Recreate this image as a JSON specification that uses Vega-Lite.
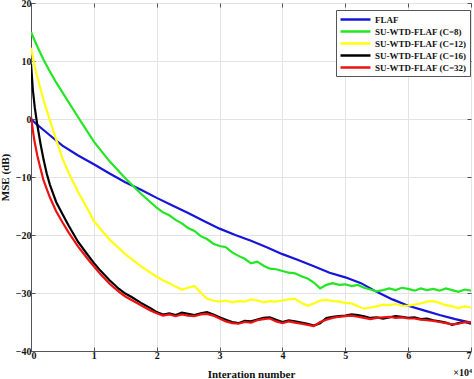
{
  "$schema": "https://vega.github.io/schema/vega-lite/v6.json",
  "width": 440,
  "height": 348,
  "autosize": {"type": "none"},
  "padding": {"left": 31, "top": 3, "right": 3, "bottom": 28},
  "background": "white",
  "config": {
    "view": {"stroke": "#555", "strokeWidth": 1},
    "font": "Liberation Serif",
    "axis": {
      "labelFont": "Liberation Serif", "labelFontWeight": "bold", "labelFontSize": 10, "labelColor": "#111",
      "titleFont": "Liberation Serif", "titleFontWeight": "bold", "titleFontSize": 11, "titleColor": "#111",
      "gridColor": "#e3e3e3", "domainColor": "#555", "tickColor": "#555", "tickSize": -4
    }
  },
  "resolve": {"axis": {"x": "independent", "y": "independent"}},
  "datasets": {
    "ann": [{"it": 70000, "mse": -40, "t": "×10⁴"}]
  },
  "data": {"values": [
    {"s":"FLAF","x":0,"y":0},{"s":"FLAF","x":1000,"y":-1.0},{"s":"FLAF","x":2000,"y":-1.9},{"s":"FLAF","x":3000,"y":-2.8},{"s":"FLAF","x":5000,"y":-4.6},{"s":"FLAF","x":7500,"y":-6.3},{"s":"FLAF","x":10000,"y":-7.8},{"s":"FLAF","x":12500,"y":-9.4},{"s":"FLAF","x":15000,"y":-10.9},{"s":"FLAF","x":17500,"y":-12.2},{"s":"FLAF","x":20000,"y":-13.6},{"s":"FLAF","x":22500,"y":-14.9},{"s":"FLAF","x":25000,"y":-16.2},{"s":"FLAF","x":27500,"y":-17.6},{"s":"FLAF","x":30000,"y":-18.9},{"s":"FLAF","x":32500,"y":-20.0},{"s":"FLAF","x":35000,"y":-21.0},{"s":"FLAF","x":37500,"y":-22.1},{"s":"FLAF","x":40000,"y":-23.3},{"s":"FLAF","x":42500,"y":-24.3},{"s":"FLAF","x":45000,"y":-25.4},{"s":"FLAF","x":47500,"y":-26.5},{"s":"FLAF","x":50000,"y":-27.3},{"s":"FLAF","x":52500,"y":-28.3},{"s":"FLAF","x":55000,"y":-29.8},{"s":"FLAF","x":57500,"y":-31.1},{"s":"FLAF","x":60000,"y":-32.2},{"s":"FLAF","x":62500,"y":-33.0},{"s":"FLAF","x":65000,"y":-33.8},{"s":"FLAF","x":67500,"y":-34.5},{"s":"FLAF","x":70000,"y":-35.1},

    {"s":"SU-WTD-FLAF (C=8)","x":0,"y":15},{"s":"SU-WTD-FLAF (C=8)","x":1000,"y":12.5},{"s":"SU-WTD-FLAF (C=8)","x":2000,"y":10.2},{"s":"SU-WTD-FLAF (C=8)","x":3000,"y":8.2},{"s":"SU-WTD-FLAF (C=8)","x":4000,"y":6.3},{"s":"SU-WTD-FLAF (C=8)","x":5000,"y":4.6},{"s":"SU-WTD-FLAF (C=8)","x":7500,"y":0.3},{"s":"SU-WTD-FLAF (C=8)","x":10000,"y":-3.9},{"s":"SU-WTD-FLAF (C=8)","x":12500,"y":-7.3},{"s":"SU-WTD-FLAF (C=8)","x":15000,"y":-10.2},{"s":"SU-WTD-FLAF (C=8)","x":17500,"y":-12.9},
    {"s":"SU-WTD-FLAF (C=8)","x":20000,"y":-15.3},{"s":"SU-WTD-FLAF (C=8)","x":21000,"y":-16.1},{"s":"SU-WTD-FLAF (C=8)","x":22000,"y":-16.6},{"s":"SU-WTD-FLAF (C=8)","x":23000,"y":-17.4},{"s":"SU-WTD-FLAF (C=8)","x":24000,"y":-18.0},{"s":"SU-WTD-FLAF (C=8)","x":25000,"y":-18.8},{"s":"SU-WTD-FLAF (C=8)","x":26000,"y":-19.3},{"s":"SU-WTD-FLAF (C=8)","x":27000,"y":-20.2},{"s":"SU-WTD-FLAF (C=8)","x":28000,"y":-20.7},{"s":"SU-WTD-FLAF (C=8)","x":29000,"y":-21.5},{"s":"SU-WTD-FLAF (C=8)","x":30000,"y":-21.9},{"s":"SU-WTD-FLAF (C=8)","x":31000,"y":-22.1},{"s":"SU-WTD-FLAF (C=8)","x":32000,"y":-23.0},{"s":"SU-WTD-FLAF (C=8)","x":33000,"y":-23.6},{"s":"SU-WTD-FLAF (C=8)","x":34000,"y":-24.1},{"s":"SU-WTD-FLAF (C=8)","x":35000,"y":-24.9},{"s":"SU-WTD-FLAF (C=8)","x":36000,"y":-24.6},{"s":"SU-WTD-FLAF (C=8)","x":37000,"y":-25.3},{"s":"SU-WTD-FLAF (C=8)","x":38000,"y":-25.8},{"s":"SU-WTD-FLAF (C=8)","x":39000,"y":-25.9},{"s":"SU-WTD-FLAF (C=8)","x":40000,"y":-26.2},{"s":"SU-WTD-FLAF (C=8)","x":41000,"y":-26.5},{"s":"SU-WTD-FLAF (C=8)","x":42000,"y":-26.6},{"s":"SU-WTD-FLAF (C=8)","x":43000,"y":-27.1},{"s":"SU-WTD-FLAF (C=8)","x":44000,"y":-27.5},{"s":"SU-WTD-FLAF (C=8)","x":45000,"y":-28.2},{"s":"SU-WTD-FLAF (C=8)","x":46000,"y":-29.2},{"s":"SU-WTD-FLAF (C=8)","x":47000,"y":-28.6},{"s":"SU-WTD-FLAF (C=8)","x":48000,"y":-28.3},{"s":"SU-WTD-FLAF (C=8)","x":49000,"y":-28.6},{"s":"SU-WTD-FLAF (C=8)","x":50000,"y":-28.5},{"s":"SU-WTD-FLAF (C=8)","x":51000,"y":-28.8},{"s":"SU-WTD-FLAF (C=8)","x":52000,"y":-28.6},{"s":"SU-WTD-FLAF (C=8)","x":53000,"y":-29.1},{"s":"SU-WTD-FLAF (C=8)","x":54000,"y":-29.4},{"s":"SU-WTD-FLAF (C=8)","x":55000,"y":-29.7},{"s":"SU-WTD-FLAF (C=8)","x":56000,"y":-29.5},{"s":"SU-WTD-FLAF (C=8)","x":57000,"y":-29.2},{"s":"SU-WTD-FLAF (C=8)","x":58000,"y":-29.5},{"s":"SU-WTD-FLAF (C=8)","x":59000,"y":-29.1},{"s":"SU-WTD-FLAF (C=8)","x":60000,"y":-29.3},{"s":"SU-WTD-FLAF (C=8)","x":61000,"y":-29.6},{"s":"SU-WTD-FLAF (C=8)","x":62000,"y":-29.2},{"s":"SU-WTD-FLAF (C=8)","x":63000,"y":-29.5},{"s":"SU-WTD-FLAF (C=8)","x":64000,"y":-29.3},{"s":"SU-WTD-FLAF (C=8)","x":65000,"y":-29.6},{"s":"SU-WTD-FLAF (C=8)","x":66000,"y":-29.2},{"s":"SU-WTD-FLAF (C=8)","x":67000,"y":-29.5},{"s":"SU-WTD-FLAF (C=8)","x":68000,"y":-29.8},{"s":"SU-WTD-FLAF (C=8)","x":69000,"y":-29.4},{"s":"SU-WTD-FLAF (C=8)","x":70000,"y":-29.6},

    {"s":"SU-WTD-FLAF (C=12)","x":0,"y":12.3},{"s":"SU-WTD-FLAF (C=12)","x":500,"y":9.5},{"s":"SU-WTD-FLAF (C=12)","x":1000,"y":7.3},{"s":"SU-WTD-FLAF (C=12)","x":2000,"y":3.2},{"s":"SU-WTD-FLAF (C=12)","x":3000,"y":-0.2},{"s":"SU-WTD-FLAF (C=12)","x":4000,"y":-3.5},{"s":"SU-WTD-FLAF (C=12)","x":5000,"y":-6.8},{"s":"SU-WTD-FLAF (C=12)","x":6000,"y":-9.3},{"s":"SU-WTD-FLAF (C=12)","x":7500,"y":-12.6},{"s":"SU-WTD-FLAF (C=12)","x":9000,"y":-15.5},{"s":"SU-WTD-FLAF (C=12)","x":10000,"y":-17.6},{"s":"SU-WTD-FLAF (C=12)","x":12500,"y":-20.8},{"s":"SU-WTD-FLAF (C=12)","x":15000,"y":-23.3},{"s":"SU-WTD-FLAF (C=12)","x":17500,"y":-25.4},
    {"s":"SU-WTD-FLAF (C=12)","x":20000,"y":-27.2},{"s":"SU-WTD-FLAF (C=12)","x":21000,"y":-27.8},{"s":"SU-WTD-FLAF (C=12)","x":22000,"y":-28.3},{"s":"SU-WTD-FLAF (C=12)","x":23000,"y":-28.9},{"s":"SU-WTD-FLAF (C=12)","x":24000,"y":-29.4},{"s":"SU-WTD-FLAF (C=12)","x":25000,"y":-29.1},{"s":"SU-WTD-FLAF (C=12)","x":26000,"y":-28.8},{"s":"SU-WTD-FLAF (C=12)","x":27000,"y":-29.9},{"s":"SU-WTD-FLAF (C=12)","x":28000,"y":-31.0},{"s":"SU-WTD-FLAF (C=12)","x":29000,"y":-31.3},{"s":"SU-WTD-FLAF (C=12)","x":30000,"y":-31.5},{"s":"SU-WTD-FLAF (C=12)","x":31000,"y":-31.3},{"s":"SU-WTD-FLAF (C=12)","x":32000,"y":-31.6},{"s":"SU-WTD-FLAF (C=12)","x":33000,"y":-31.4},{"s":"SU-WTD-FLAF (C=12)","x":34000,"y":-31.5},{"s":"SU-WTD-FLAF (C=12)","x":35000,"y":-31.1},{"s":"SU-WTD-FLAF (C=12)","x":36000,"y":-31.3},{"s":"SU-WTD-FLAF (C=12)","x":37000,"y":-31.6},{"s":"SU-WTD-FLAF (C=12)","x":38000,"y":-31.4},{"s":"SU-WTD-FLAF (C=12)","x":39000,"y":-31.5},{"s":"SU-WTD-FLAF (C=12)","x":40000,"y":-31.3},{"s":"SU-WTD-FLAF (C=12)","x":41000,"y":-31.1},{"s":"SU-WTD-FLAF (C=12)","x":42000,"y":-31.0},{"s":"SU-WTD-FLAF (C=12)","x":43000,"y":-31.7},{"s":"SU-WTD-FLAF (C=12)","x":44000,"y":-32.2},{"s":"SU-WTD-FLAF (C=12)","x":45000,"y":-31.8},{"s":"SU-WTD-FLAF (C=12)","x":46000,"y":-31.3},{"s":"SU-WTD-FLAF (C=12)","x":47000,"y":-31.2},{"s":"SU-WTD-FLAF (C=12)","x":48000,"y":-31.4},{"s":"SU-WTD-FLAF (C=12)","x":49000,"y":-31.5},{"s":"SU-WTD-FLAF (C=12)","x":50000,"y":-31.7},{"s":"SU-WTD-FLAF (C=12)","x":51000,"y":-31.8},{"s":"SU-WTD-FLAF (C=12)","x":52000,"y":-32.3},{"s":"SU-WTD-FLAF (C=12)","x":53000,"y":-32.7},{"s":"SU-WTD-FLAF (C=12)","x":54000,"y":-32.5},{"s":"SU-WTD-FLAF (C=12)","x":55000,"y":-32.3},{"s":"SU-WTD-FLAF (C=12)","x":56000,"y":-32.0},{"s":"SU-WTD-FLAF (C=12)","x":57000,"y":-32.1},{"s":"SU-WTD-FLAF (C=12)","x":58000,"y":-31.9},{"s":"SU-WTD-FLAF (C=12)","x":59000,"y":-32.2},{"s":"SU-WTD-FLAF (C=12)","x":60000,"y":-32.2},{"s":"SU-WTD-FLAF (C=12)","x":61000,"y":-32.0},{"s":"SU-WTD-FLAF (C=12)","x":62000,"y":-31.8},{"s":"SU-WTD-FLAF (C=12)","x":63000,"y":-31.5},{"s":"SU-WTD-FLAF (C=12)","x":64000,"y":-31.4},{"s":"SU-WTD-FLAF (C=12)","x":65000,"y":-31.7},{"s":"SU-WTD-FLAF (C=12)","x":66000,"y":-32.1},{"s":"SU-WTD-FLAF (C=12)","x":67000,"y":-32.3},{"s":"SU-WTD-FLAF (C=12)","x":68000,"y":-32.6},{"s":"SU-WTD-FLAF (C=12)","x":69000,"y":-32.3},{"s":"SU-WTD-FLAF (C=12)","x":70000,"y":-32.5},

    {"s":"SU-WTD-FLAF (C=16)","x":0,"y":9.5},{"s":"SU-WTD-FLAF (C=16)","x":300,"y":5},{"s":"SU-WTD-FLAF (C=16)","x":600,"y":2},{"s":"SU-WTD-FLAF (C=16)","x":1000,"y":-1},{"s":"SU-WTD-FLAF (C=16)","x":1500,"y":-4.2},{"s":"SU-WTD-FLAF (C=16)","x":2000,"y":-7},{"s":"SU-WTD-FLAF (C=16)","x":2500,"y":-9.4},{"s":"SU-WTD-FLAF (C=16)","x":3000,"y":-11.3},{"s":"SU-WTD-FLAF (C=16)","x":4000,"y":-14.3},{"s":"SU-WTD-FLAF (C=16)","x":5000,"y":-16.4},{"s":"SU-WTD-FLAF (C=16)","x":6000,"y":-18.4},{"s":"SU-WTD-FLAF (C=16)","x":7500,"y":-21.2},{"s":"SU-WTD-FLAF (C=16)","x":9000,"y":-23.4},{"s":"SU-WTD-FLAF (C=16)","x":10000,"y":-24.8},{"s":"SU-WTD-FLAF (C=16)","x":11000,"y":-26.1},{"s":"SU-WTD-FLAF (C=16)","x":12500,"y":-27.8},{"s":"SU-WTD-FLAF (C=16)","x":14000,"y":-29.3},{"s":"SU-WTD-FLAF (C=16)","x":15000,"y":-30.1},{"s":"SU-WTD-FLAF (C=16)","x":16000,"y":-30.7},{"s":"SU-WTD-FLAF (C=16)","x":17500,"y":-31.7},{"s":"SU-WTD-FLAF (C=16)","x":19000,"y":-32.6},
    {"s":"SU-WTD-FLAF (C=16)","x":20000,"y":-33.3},{"s":"SU-WTD-FLAF (C=16)","x":21000,"y":-33.7},{"s":"SU-WTD-FLAF (C=16)","x":22000,"y":-33.5},{"s":"SU-WTD-FLAF (C=16)","x":23000,"y":-33.8},{"s":"SU-WTD-FLAF (C=16)","x":24000,"y":-33.4},{"s":"SU-WTD-FLAF (C=16)","x":25000,"y":-33.6},{"s":"SU-WTD-FLAF (C=16)","x":26000,"y":-33.8},{"s":"SU-WTD-FLAF (C=16)","x":27000,"y":-33.5},{"s":"SU-WTD-FLAF (C=16)","x":28000,"y":-33.3},{"s":"SU-WTD-FLAF (C=16)","x":29000,"y":-33.7},{"s":"SU-WTD-FLAF (C=16)","x":30000,"y":-34.2},{"s":"SU-WTD-FLAF (C=16)","x":31000,"y":-34.6},{"s":"SU-WTD-FLAF (C=16)","x":32000,"y":-35.0},{"s":"SU-WTD-FLAF (C=16)","x":33000,"y":-35.2},{"s":"SU-WTD-FLAF (C=16)","x":34000,"y":-34.8},{"s":"SU-WTD-FLAF (C=16)","x":35000,"y":-34.9},{"s":"SU-WTD-FLAF (C=16)","x":36000,"y":-34.6},{"s":"SU-WTD-FLAF (C=16)","x":37000,"y":-34.3},{"s":"SU-WTD-FLAF (C=16)","x":38000,"y":-34.2},{"s":"SU-WTD-FLAF (C=16)","x":39000,"y":-34.6},{"s":"SU-WTD-FLAF (C=16)","x":40000,"y":-35.0},{"s":"SU-WTD-FLAF (C=16)","x":41000,"y":-34.7},{"s":"SU-WTD-FLAF (C=16)","x":42000,"y":-34.9},{"s":"SU-WTD-FLAF (C=16)","x":43000,"y":-35.1},{"s":"SU-WTD-FLAF (C=16)","x":44000,"y":-35.3},{"s":"SU-WTD-FLAF (C=16)","x":45000,"y":-35.6},{"s":"SU-WTD-FLAF (C=16)","x":46000,"y":-35.2},{"s":"SU-WTD-FLAF (C=16)","x":47000,"y":-34.3},{"s":"SU-WTD-FLAF (C=16)","x":48000,"y":-34.1},{"s":"SU-WTD-FLAF (C=16)","x":49000,"y":-34.0},{"s":"SU-WTD-FLAF (C=16)","x":50000,"y":-33.9},{"s":"SU-WTD-FLAF (C=16)","x":51000,"y":-33.7},{"s":"SU-WTD-FLAF (C=16)","x":52000,"y":-33.8},{"s":"SU-WTD-FLAF (C=16)","x":53000,"y":-34.0},{"s":"SU-WTD-FLAF (C=16)","x":54000,"y":-34.3},{"s":"SU-WTD-FLAF (C=16)","x":55000,"y":-34.2},{"s":"SU-WTD-FLAF (C=16)","x":56000,"y":-34.4},{"s":"SU-WTD-FLAF (C=16)","x":57000,"y":-34.2},{"s":"SU-WTD-FLAF (C=16)","x":58000,"y":-34.0},{"s":"SU-WTD-FLAF (C=16)","x":59000,"y":-34.1},{"s":"SU-WTD-FLAF (C=16)","x":60000,"y":-34.3},{"s":"SU-WTD-FLAF (C=16)","x":61000,"y":-34.2},{"s":"SU-WTD-FLAF (C=16)","x":62000,"y":-34.5},{"s":"SU-WTD-FLAF (C=16)","x":63000,"y":-34.4},{"s":"SU-WTD-FLAF (C=16)","x":64000,"y":-34.7},{"s":"SU-WTD-FLAF (C=16)","x":65000,"y":-34.9},{"s":"SU-WTD-FLAF (C=16)","x":66000,"y":-35.1},{"s":"SU-WTD-FLAF (C=16)","x":67000,"y":-35.5},{"s":"SU-WTD-FLAF (C=16)","x":68000,"y":-35.2},{"s":"SU-WTD-FLAF (C=16)","x":69000,"y":-35.0},{"s":"SU-WTD-FLAF (C=16)","x":70000,"y":-35.3},

    {"s":"SU-WTD-FLAF (C=32)","x":0,"y":0.4},{"s":"SU-WTD-FLAF (C=32)","x":500,"y":-3.5},{"s":"SU-WTD-FLAF (C=32)","x":1000,"y":-6.3},{"s":"SU-WTD-FLAF (C=32)","x":1500,"y":-8.5},{"s":"SU-WTD-FLAF (C=32)","x":2000,"y":-10.6},{"s":"SU-WTD-FLAF (C=32)","x":3000,"y":-13.5},{"s":"SU-WTD-FLAF (C=32)","x":4000,"y":-15.9},{"s":"SU-WTD-FLAF (C=32)","x":5000,"y":-17.8},{"s":"SU-WTD-FLAF (C=32)","x":6000,"y":-19.6},{"s":"SU-WTD-FLAF (C=32)","x":7500,"y":-22.0},{"s":"SU-WTD-FLAF (C=32)","x":9000,"y":-24.1},{"s":"SU-WTD-FLAF (C=32)","x":10000,"y":-25.4},{"s":"SU-WTD-FLAF (C=32)","x":11000,"y":-26.7},{"s":"SU-WTD-FLAF (C=32)","x":12500,"y":-28.4},{"s":"SU-WTD-FLAF (C=32)","x":14000,"y":-29.8},{"s":"SU-WTD-FLAF (C=32)","x":15000,"y":-30.6},{"s":"SU-WTD-FLAF (C=32)","x":16000,"y":-31.2},{"s":"SU-WTD-FLAF (C=32)","x":17500,"y":-32.1},{"s":"SU-WTD-FLAF (C=32)","x":19000,"y":-33.0},
    {"s":"SU-WTD-FLAF (C=32)","x":20000,"y":-33.5},{"s":"SU-WTD-FLAF (C=32)","x":21000,"y":-33.9},{"s":"SU-WTD-FLAF (C=32)","x":22000,"y":-33.7},{"s":"SU-WTD-FLAF (C=32)","x":23000,"y":-34.0},{"s":"SU-WTD-FLAF (C=32)","x":24000,"y":-33.7},{"s":"SU-WTD-FLAF (C=32)","x":25000,"y":-33.9},{"s":"SU-WTD-FLAF (C=32)","x":26000,"y":-34.0},{"s":"SU-WTD-FLAF (C=32)","x":27000,"y":-33.7},{"s":"SU-WTD-FLAF (C=32)","x":28000,"y":-33.6},{"s":"SU-WTD-FLAF (C=32)","x":29000,"y":-33.9},{"s":"SU-WTD-FLAF (C=32)","x":30000,"y":-34.4},{"s":"SU-WTD-FLAF (C=32)","x":31000,"y":-34.9},{"s":"SU-WTD-FLAF (C=32)","x":32000,"y":-35.2},{"s":"SU-WTD-FLAF (C=32)","x":33000,"y":-35.3},{"s":"SU-WTD-FLAF (C=32)","x":34000,"y":-35.0},{"s":"SU-WTD-FLAF (C=32)","x":35000,"y":-35.1},{"s":"SU-WTD-FLAF (C=32)","x":36000,"y":-34.7},{"s":"SU-WTD-FLAF (C=32)","x":37000,"y":-34.5},{"s":"SU-WTD-FLAF (C=32)","x":38000,"y":-34.4},{"s":"SU-WTD-FLAF (C=32)","x":39000,"y":-34.9},{"s":"SU-WTD-FLAF (C=32)","x":40000,"y":-35.2},{"s":"SU-WTD-FLAF (C=32)","x":41000,"y":-34.9},{"s":"SU-WTD-FLAF (C=32)","x":42000,"y":-35.1},{"s":"SU-WTD-FLAF (C=32)","x":43000,"y":-35.3},{"s":"SU-WTD-FLAF (C=32)","x":44000,"y":-35.5},{"s":"SU-WTD-FLAF (C=32)","x":45000,"y":-35.7},{"s":"SU-WTD-FLAF (C=32)","x":46000,"y":-35.0},{"s":"SU-WTD-FLAF (C=32)","x":47000,"y":-34.6},{"s":"SU-WTD-FLAF (C=32)","x":48000,"y":-34.3},{"s":"SU-WTD-FLAF (C=32)","x":49000,"y":-34.1},{"s":"SU-WTD-FLAF (C=32)","x":50000,"y":-34.0},{"s":"SU-WTD-FLAF (C=32)","x":51000,"y":-33.9},{"s":"SU-WTD-FLAF (C=32)","x":52000,"y":-34.1},{"s":"SU-WTD-FLAF (C=32)","x":53000,"y":-34.3},{"s":"SU-WTD-FLAF (C=32)","x":54000,"y":-34.5},{"s":"SU-WTD-FLAF (C=32)","x":55000,"y":-34.3},{"s":"SU-WTD-FLAF (C=32)","x":56000,"y":-34.2},{"s":"SU-WTD-FLAF (C=32)","x":57000,"y":-34.1},{"s":"SU-WTD-FLAF (C=32)","x":58000,"y":-34.3},{"s":"SU-WTD-FLAF (C=32)","x":59000,"y":-34.2},{"s":"SU-WTD-FLAF (C=32)","x":60000,"y":-34.4},{"s":"SU-WTD-FLAF (C=32)","x":61000,"y":-34.4},{"s":"SU-WTD-FLAF (C=32)","x":62000,"y":-34.6},{"s":"SU-WTD-FLAF (C=32)","x":63000,"y":-34.7},{"s":"SU-WTD-FLAF (C=32)","x":64000,"y":-34.8},{"s":"SU-WTD-FLAF (C=32)","x":65000,"y":-35.0},{"s":"SU-WTD-FLAF (C=32)","x":66000,"y":-35.2},{"s":"SU-WTD-FLAF (C=32)","x":67000,"y":-35.4},{"s":"SU-WTD-FLAF (C=32)","x":68000,"y":-35.3},{"s":"SU-WTD-FLAF (C=32)","x":69000,"y":-35.0},{"s":"SU-WTD-FLAF (C=32)","x":70000,"y":-35.1}
  ]},
  "layer": [
    {
      "mark": {"type": "line", "strokeWidth": 2.2, "clip": true},
      "encoding": {
        "x": {"field": "x", "type": "quantitative", "scale": {"domain": [0, 70000], "nice": false},
              "axis": {"title": "Interation number", "values": [0,10000,20000,30000,40000,50000,60000,70000], "labelExpr": "datum.value/10000", "labelPadding": 3, "titleY": 26, "titleBaseline": "alphabetic"}},
        "y": {"field": "y", "type": "quantitative", "scale": {"domain": [-40, 20], "nice": false},
              "axis": {"title": "MSE (dB)", "values": [-40,-30,-20,-10,0,10,20], "labelPadding": 4, "titleX": -21, "titleY": 174, "titleAnchor": "middle"}},
        "color": {"field": "s", "type": "nominal",
          "scale": {"domain": ["FLAF","SU-WTD-FLAF (C=8)","SU-WTD-FLAF (C=12)","SU-WTD-FLAF (C=16)","SU-WTD-FLAF (C=32)"],
                    "range": ["#1515d8","#22e622","#ffff11","#000000","#ee1111"]},
          "legend": {"title": null, "orient": "none", "legendX": 305, "legendY": 7,
            "symbolType": "M-1,0H5", "symbolSize": 100, "symbolStrokeWidth": 2.5,
            "labelFont": "Liberation Serif", "labelFontWeight": "bold", "labelFontSize": 9, "labelColor": "#111",
            "rowPadding": 0, "padding": 3, "fillColor": "white", "strokeColor": "#555", "labelOffset": 23}},
        "order": {"field": "s"}
      }
    },
    {
      "data": {"name": "ann"},
      "mark": {"type": "text", "font": "Liberation Serif", "fontWeight": "bold", "fontSize": 10, "dx": 1, "dy": 25, "align": "right", "baseline": "alphabetic", "color": "#111"},
      "encoding": {
        "x": {"field": "it", "type": "quantitative",
              "axis": {"orient": "top", "title": null, "labels": false, "grid": false, "domain": false, "values": [0,10000,20000,30000,40000,50000,60000,70000]}},
        "y": {"field": "mse", "type": "quantitative",
              "axis": {"orient": "right", "title": null, "labels": false, "grid": false, "domain": false, "values": [-40,-30,-20,-10,0,10,20]}},
        "text": {"field": "t"}
      }
    }
  ]
}
